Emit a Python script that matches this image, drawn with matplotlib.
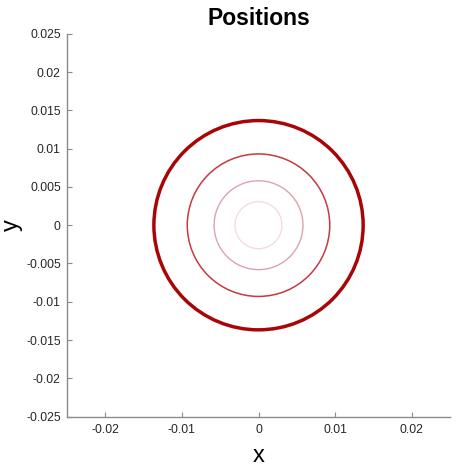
import numpy as np
import matplotlib
matplotlib.use('Agg')
import matplotlib.pyplot as plt
from matplotlib.patches import Circle

plt.rcParams['font.family'] = ['Liberation Sans', 'DejaVu Sans']

# радиусы окружностей (от внешней к внутренней)
radii = [0.01366, 0.0093, 0.0058, 0.00307]
colors = ['#a80606', '#c53844', '#dba4ac', '#f1d9dd']
widths = [2.5, 1.1, 1.0, 0.9]

ticks_x = [-0.02, -0.01, 0, 0.01, 0.02]
ticks_y = [-0.025, -0.02, -0.015, -0.01, -0.005, 0, 0.005, 0.01, 0.015, 0.02, 0.025]

fig = plt.figure(figsize=(4.74, 4.74), dpi=100)
ax = fig.add_axes([0.1414, 0.1209, 0.808, 0.808])

for r, c, w in zip(radii, colors, widths):
    ax.add_patch(Circle((0, 0), r, fill=False, edgecolor=c, linewidth=w))

ax.set_xlim(-0.025, 0.025)
ax.set_ylim(-0.025, 0.025)
ax.set_xticks(ticks_x)
ax.set_xticklabels([f'{t:g}' for t in ticks_x])
ax.set_yticks(ticks_y)
ax.set_yticklabels([f'{t:g}' for t in ticks_y])

for s in ['top', 'right']:
    ax.spines[s].set_visible(False)
for s in ['left', 'bottom']:
    ax.spines[s].set_color('#8a8a8a')
    ax.spines[s].set_linewidth(1.0)

ax.tick_params(direction='in', length=3.5, width=0.8, color='#8a8a8a',
               labelsize=8.8, labelcolor='#262626')
ax.tick_params(axis='x', pad=5)
ax.tick_params(axis='y', pad=4.5)

ax.set_title('Positions', fontsize=16.5, fontweight='bold', pad=6)
ax.set_xlabel('x', fontsize=17, labelpad=7)
ax.set_ylabel('y', fontsize=17, labelpad=2)

fig.savefig('out.png', dpi=100)
